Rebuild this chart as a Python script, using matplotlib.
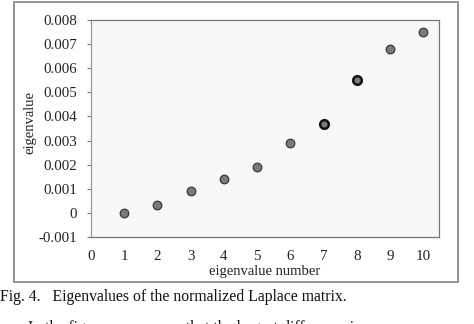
import matplotlib
matplotlib.use("Agg")
import matplotlib.pyplot as plt
from matplotlib.patches import Rectangle

eig_number = [1, 2, 3, 4, 5, 6, 7, 8, 9, 10]
eig_value = [0.0, 0.00032, 0.0009, 0.0014, 0.0019, 0.0029, 0.0037, 0.0055, 0.0068, 0.0075]
bold_edge = [False, False, False, False, False, False, True, True, False, False]
x_ticks = [0, 1, 2, 3, 4, 5, 6, 7, 8, 9, 10]
y_ticks = [-0.001, 0, 0.001, 0.002, 0.003, 0.004, 0.005, 0.006, 0.007, 0.008]
y_tick_labels = ["-0.001", "0", "0.001", "0.002", "0.003", "0.004", "0.005", "0.006", "0.007", "0.008"]

plt.rcParams['font.family'] = ['Liberation Serif', 'DejaVu Serif']

W, H = 474, 324
fig = plt.figure(figsize=(W / 100, H / 100), dpi=100)

# outer frame
fig.patches.append(Rectangle((14 / W, 1 - 282 / H), (458 - 14) / W, (282 - 2) / H,
                             transform=fig.transFigure, fill=False,
                             edgecolor='#8a8a8a', linewidth=1.3))

ax = fig.add_axes([91 / W, 1 - 237 / H, (439 - 91) / W, (237 - 20) / H])
ax.set_facecolor('#f8f8f8')
ax.set_xlim(0, 10.47)
ax.set_ylim(-0.001, 0.008)

for i in range(len(eig_number)):
    ax.plot(eig_number[i], eig_value[i], 'o', markersize=6.2,
            markerfacecolor='#7a7a7a',
            markeredgecolor='#111111' if bold_edge[i] else '#3a3a3a',
            markeredgewidth=1.8 if bold_edge[i] else 0.9)

ax.set_xticks(x_ticks)
ax.set_xticklabels([str(t) for t in x_ticks])
ax.set_yticks(y_ticks)
ax.set_yticklabels(y_tick_labels)
ax.tick_params(axis='x', length=0, pad=9, labelsize=10.8, colors='#222222')
ax.tick_params(axis='y', length=3, width=0.8, color='#777777', pad=7, labelsize=10.8,
               labelcolor='#222222')

for s in ['top', 'right', 'bottom']:
    ax.spines[s].set_linestyle((0, (1, 1)))
    ax.spines[s].set_color('#777777')
    ax.spines[s].set_linewidth(0.9)
ax.spines['left'].set_color('#999999')
ax.spines['left'].set_linewidth(0.9)

fig.text(265 / W, 1 - 272 / H, 'eigenvalue number', ha='center', va='center',
         fontsize=10.5, color='#222222')
fig.text(30 / W, 1 - 122 / H, 'eigenvalue', ha='center', va='center',
         rotation=90, fontsize=10.5, color='#222222')

fig.text(0 / W, 1 - 297 / H, 'Fig. 4.   Eigenvalues of the normalized Laplace matrix.',
         ha='left', va='center', fontsize=11.3, color='#111111')
fig.text(28 / W, 1 - 332 / H, 'In the figure, we can see that the largest difference is',
         ha='left', va='baseline', fontsize=11.3, color='#111111')

fig.savefig('out.png', dpi=100)
